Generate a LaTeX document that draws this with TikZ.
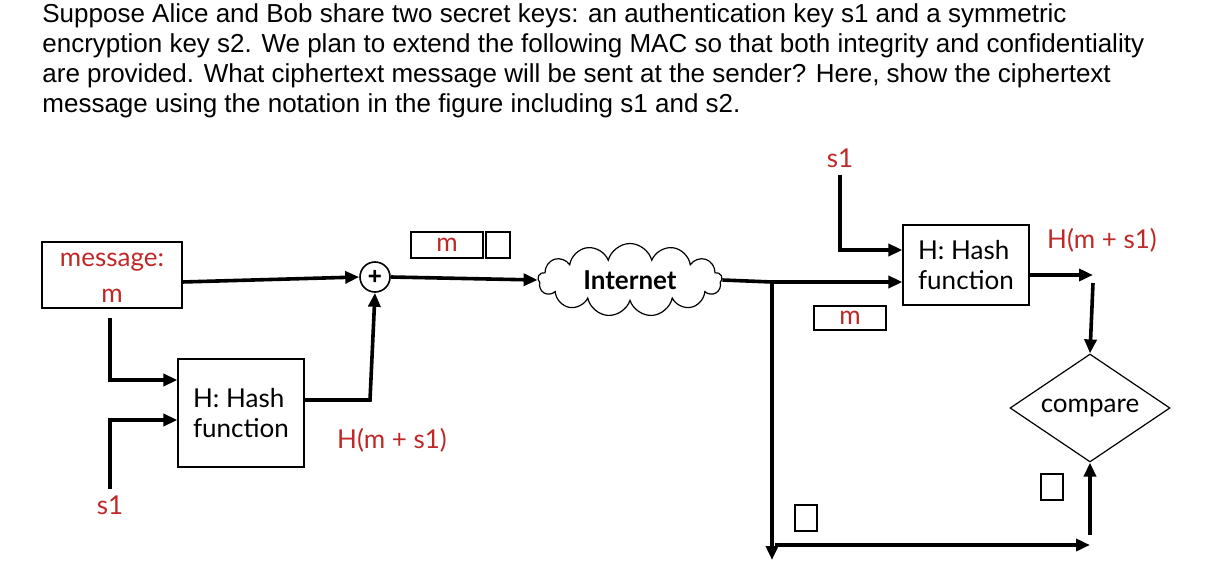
\documentclass[tikz,border=0pt]{standalone}
\usepackage{fontspec}
\setmainfont{Liberation Sans}
\newfontfamily\gill{Lato}
\usetikzlibrary{arrows.meta,shapes.geometric,shapes.symbols}
\definecolor{dred}{RGB}{192,40,40}
\tikzset{
 ln/.style={line width=1.8pt},
 ar/.style={line width=1.8pt,-{Triangle[length=7pt,width=6pt]}},
 bx/.style={draw,line width=0.6pt,inner sep=0pt},
 lbl/.style={font=\gill\fontsize{13}{15}\selectfont},
 rlbl/.style={lbl,text=dred},
}
\begin{document}
\begin{tikzpicture}[x=0.5pt,y=-0.5pt]
\useasboundingbox (0,0) rectangle (1216,578);
\node[anchor=north west,align=left,inner sep=0pt,font=\fontsize{13}{15}\selectfont] (q) at (42,3)
{Suppose Alice and Bob share two secret keys: an authentication key s1 and a symmetric\\
encryption key s2. We plan to extend the following MAC so that both integrity and confidentiality\\
are provided. What ciphertext message will be sent at the sender? Here, show the ciphertext\\
message using the notation in the figure including s1 and s2.};
% left
\draw[line width=0.6pt] (42,242) rectangle (182,308);
\node[rlbl] (msg) at (112,262) {message:};
\node[rlbl] (mm) at (112,296) {m};
\node[circle,draw,line width=0.8pt,minimum size=15pt,inner sep=0pt,font=\bfseries\large] (plus) at (375,277) {+};
\coordinate (msgR) at (182,282);
\draw[ar] (msgR) -- (plus.west);
\node[cloud,draw,cloud puffs=13,aspect=3.4,minimum width=92pt,minimum height=28pt,line width=0.6pt,font=\gill\bfseries\fontsize{13}{15}\selectfont] (net) at (630,280) {Internet};
\draw[ar] (plus.east) -- (net.west);
\node[bx,minimum width=36pt,minimum height=13pt,rlbl] (mb1) at (447,245) {m};
\node[bx,minimum width=12pt,minimum height=13pt] (sq1) at (498,245) {};
\node[bx,minimum width=63pt,minimum height=54pt,align=left,lbl] (h1) at (241,413) {H: Hash\\function};
\coordinate (c1) at (110,318);
\draw[ar] (c1) -- (110,380) -- (h1.west|-0,380);
\node[rlbl] (s1a) at (110,505) {s1};
\draw[ar] (s1a.north) -- (110,420) -- (h1.west|-0,420);
\draw[ar] (h1.east|-0,400) -- (370,400) -- (plus.south);
\node[rlbl] (hl) at (392,440) {H(m + s1)};
% right
\node[bx,minimum width=63pt,minimum height=40pt,align=left,lbl] (h2) at (966,265) {H: Hash\\function};
\coordinate (j) at (772,282);
\draw[ln] (net.east) -- (j);
\draw[ar] (j) -- (h2.west|-0,282);
\node[rlbl] (s1b) at (840,158) {s1};
\draw[ar] (s1b.south) -- (840,250) -- (h2.west|-0,250);
\node[bx,minimum width=36pt,minimum height=12pt,rlbl] (mb2) at (850,318) {m};
\node[rlbl] (hr) at (1102,240) {H(m + s1)};
\node[diamond,draw,line width=0.6pt,minimum width=80pt,minimum height=54pt,inner sep=0pt,lbl,aspect=1.5] (cmp) at (1090,408) {compare};
\draw[ar] (h2.east|-0,275) -- (1093,275);
\draw[ar] (1093,283) -- (cmp.north);
\draw[ar] (j) -- (772,560);
\draw[ar] (775,545) -- (1090,545);
\draw[ar] (1090,535) -- (cmp.south);
\node[bx,minimum width=11pt,minimum height=13pt] (sq2) at (806,518) {};
\node[bx,minimum width=11pt,minimum height=13pt] (sq3) at (1052,487) {};
\end{tikzpicture}
\end{document}
